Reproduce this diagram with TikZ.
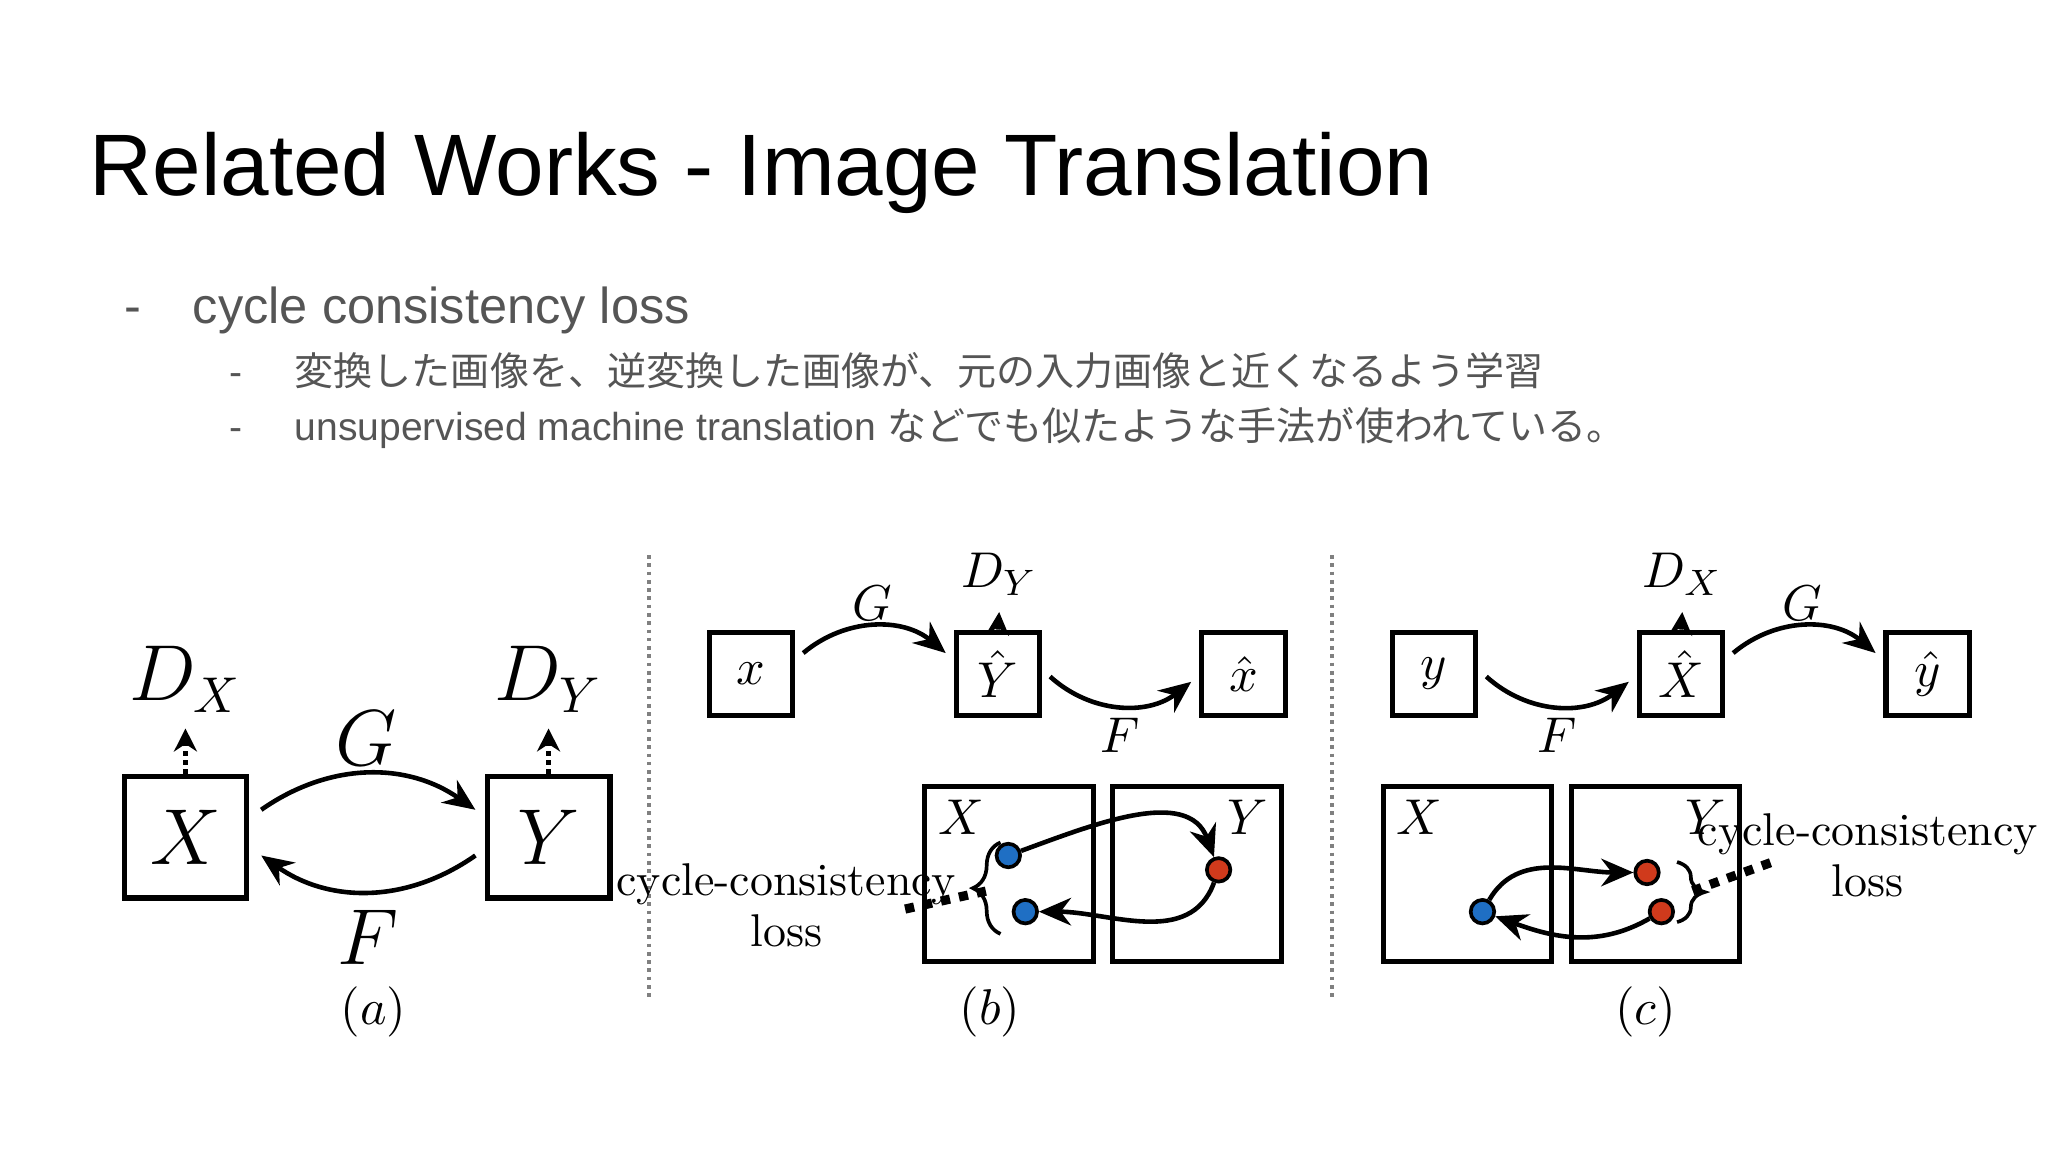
\documentclass[tikz,border=0pt]{standalone}
\usepackage{fontspec}
\setmainfont{Latin Modern Roman}
\newfontfamily\arial{Liberation Sans}
\newfontfamily\cjk{Noto Sans CJK JP}
\usetikzlibrary{arrows.meta,decorations.pathreplacing,calc}
\definecolor{dotblue}{HTML}{1F6FC4}
\definecolor{dotred}{HTML}{D03A1C}
\definecolor{txtgray}{HTML}{555555}
\begin{document}
\begin{tikzpicture}[x=0.01cm,y=-0.01cm,
  bx/.style={draw,line width=1.1pt,inner sep=0},
  arr/.style={-{Stealth[length=7pt,width=6pt]},line width=1pt},
  dotarr/.style={-{Stealth[length=5pt,width=5pt]},line width=1pt,densely dotted},
  bdot/.style={circle,draw,line width=0.8pt,fill=dotblue,inner sep=0,minimum size=0.18cm},
  rdot/.style={circle,draw,line width=0.8pt,fill=dotred,inner sep=0,minimum size=0.18cm},
  sep/.style={densely dotted,gray,line width=0.8pt},
  lbl/.style={font=\fontsize{11}{13}\selectfont},
  big/.style={font=\fontsize{16}{18}\selectfont}]
\useasboundingbox (0,0) rectangle (1568,882);
\fill[white] (0,0) rectangle (1568,882);
% title and bullets
\node[anchor=base west,inner sep=0,font=\arial\fontsize{19}{22}\selectfont] (title) at (68,150) {Related Works - Image Translation};
\node[anchor=base west,inner sep=0,text=txtgray,font=\arial\fontsize{11}{13}\selectfont] (d1) at (95,248) {-};
\node[anchor=base west,inner sep=0,text=txtgray,font=\arial\fontsize{11}{13}\selectfont] (b1) at (147,248) {cycle consistency loss};
\node[anchor=base west,inner sep=0,text=txtgray,font=\arial\fontsize{8.5}{10}\selectfont] (d2) at (175,295) {-};
\node[anchor=base west,inner sep=0,text=txtgray,font=\cjk\fontsize{8.5}{10}\selectfont] (b2) at (225,295) {変換した画像を、逆変換した画像が、元の入力画像と近くなるよう学習};
\node[anchor=base west,inner sep=0,text=txtgray,font=\arial\fontsize{8.5}{10}\selectfont] (d3) at (175,337) {-};
\node[anchor=base west,inner sep=0,text=txtgray,font=\arial\fontsize{8.5}{10}\selectfont] (b3) at (225,337) {unsupervised machine translation {\cjk などでも似たような手法が使われている。}};
% separators
\draw[sep] (497,425) -- (497,765);
\draw[sep] (1020,425) -- (1020,765);
% (a)
\node[bx,minimum width=0.94cm,minimum height=0.93cm,big] (aX) at (142,641) {$X$};
\node[bx,minimum width=0.94cm,minimum height=0.93cm,big] (aY) at (420,641) {$Y$};
\node[big] (aDX) at (142,520) {$D_X$};
\node[big] (aDY) at (420,520) {$D_Y$};
\draw[dotarr] (aX.north) -- (aDX.south);
\draw[dotarr] (aY.north) -- (aDY.south);
\coordinate (a1) at (200,620); \coordinate (a2) at (364,620);
\coordinate (a3) at (364,655); \coordinate (a4) at (200,655);
\draw[arr] (a1) to[bend left=35] (a2);
\draw[arr] (a3) to[bend left=35] (a4);
\node[big] (aG) at (280,565) {$G$};
\node[big] (aF) at (282,718) {$F$};
\node[lbl] (ca) at (286,775) {$(a)$};
% (b)
\node[bx,minimum width=0.64cm,minimum height=0.64cm,lbl] (bx) at (575,516) {$x$};
\node[bx,minimum width=0.64cm,minimum height=0.64cm,lbl] (bYh) at (764,516) {$\hat{Y}$};
\node[bx,minimum width=0.64cm,minimum height=0.64cm,lbl] (bxh) at (952,516) {$\hat{x}$};
\node[lbl] (bDY) at (765,440) {$D_Y$};
\draw[dotarr] (bYh.north) -- (bDY.south);
\node[lbl] (bG) at (668,462) {$G$};
\node[lbl] (bF) at (858,563) {$F$};
\draw[arr] ($(bx.east)+(6,-16)$) to[bend left=40] ($(bYh.west)+(-6,-16)$);
\draw[arr] ($(bYh.east)+(6,2)$) to[bend right=40] ($(bxh.west)+(-6,6)$);
\node[bx,minimum width=1.29cm,minimum height=1.34cm] (bX) at (772.5,669) {};
\node[bx,minimum width=1.29cm,minimum height=1.34cm] (bY) at (916.5,669) {};
\node[lbl,anchor=north west] (bXl) at (bX.north west) {$X$};
\node[lbl,anchor=north east] (bYl) at (bY.north east) {$Y$};
\node[bdot] (bb1) at (772,655) {};
\node[bdot] (bb2) at (785,698) {};
\node[rdot] (br) at (933,666) {};
\draw[arr] (bb1) to[out=20,in=110] (br);
\draw[arr] (br) to[out=-110,in=0] (bb2);
\draw[line width=0.8pt,decorate,decoration={brace,amplitude=6pt}] (766,715) -- (766,645);
\coordinate (bbt) at (756,682);
\draw[line width=2pt,dotted] (693,696) -- (bbt);
\node[align=center,font=\fontsize{10}{11}\selectfont] (bcl) at (602,693) {cycle-consistency\\loss};
\node[lbl] (cb) at (758,775) {$(b)$};
% (c)
\node[bx,minimum width=0.64cm,minimum height=0.64cm,lbl] (cy) at (1098,516) {$y$};
\node[bx,minimum width=0.64cm,minimum height=0.64cm,lbl] (cXh) at (1287,516) {$\hat{X}$};
\node[bx,minimum width=0.64cm,minimum height=0.64cm,lbl] (cyh) at (1476,516) {$\hat{y}$};
\node[lbl] (cDX) at (1288,440) {$D_X$};
\draw[dotarr] (cXh.north) -- (cDX.south);
\node[lbl] (cG) at (1380,462) {$G$};
\node[lbl] (cF) at (1192,563) {$F$};
\draw[arr] ($(cXh.east)+(6,-16)$) to[bend left=40] ($(cyh.west)+(-6,-16)$);
\draw[arr] ($(cy.east)+(6,2)$) to[bend right=40] ($(cXh.west)+(-6,6)$);
\node[bx,minimum width=1.29cm,minimum height=1.34cm] (cX) at (1123.5,669) {};
\node[bx,minimum width=1.29cm,minimum height=1.34cm] (cY) at (1267.5,669) {};
\node[lbl,anchor=north west] (cXl) at (cX.north west) {$X$};
\node[lbl,anchor=north east] (cYl) at (cY.north east) {$Y$};
\node[bdot] (cb1) at (1135,698) {};
\node[rdot] (cr1) at (1261,668) {};
\node[rdot] (cr2) at (1272,698) {};
\draw[arr] (cb1) to[out=60,in=180] (cr1);
\draw[arr] (cr2) to[out=-150,in=-20] (cb1);
\draw[line width=0.8pt,decorate,decoration={brace,amplitude=6pt}] (1284,660) -- (1284,706);
\coordinate (cbt) at (1296,682);
\draw[line width=2pt,dotted] (cbt) -- (1357,660);
\node[align=center,font=\fontsize{10}{11}\selectfont] (ccl) at (1430,655) {cycle-consistency\\loss};
\node[lbl] (cc) at (1260,775) {$(c)$};
\end{tikzpicture}
\end{document}
